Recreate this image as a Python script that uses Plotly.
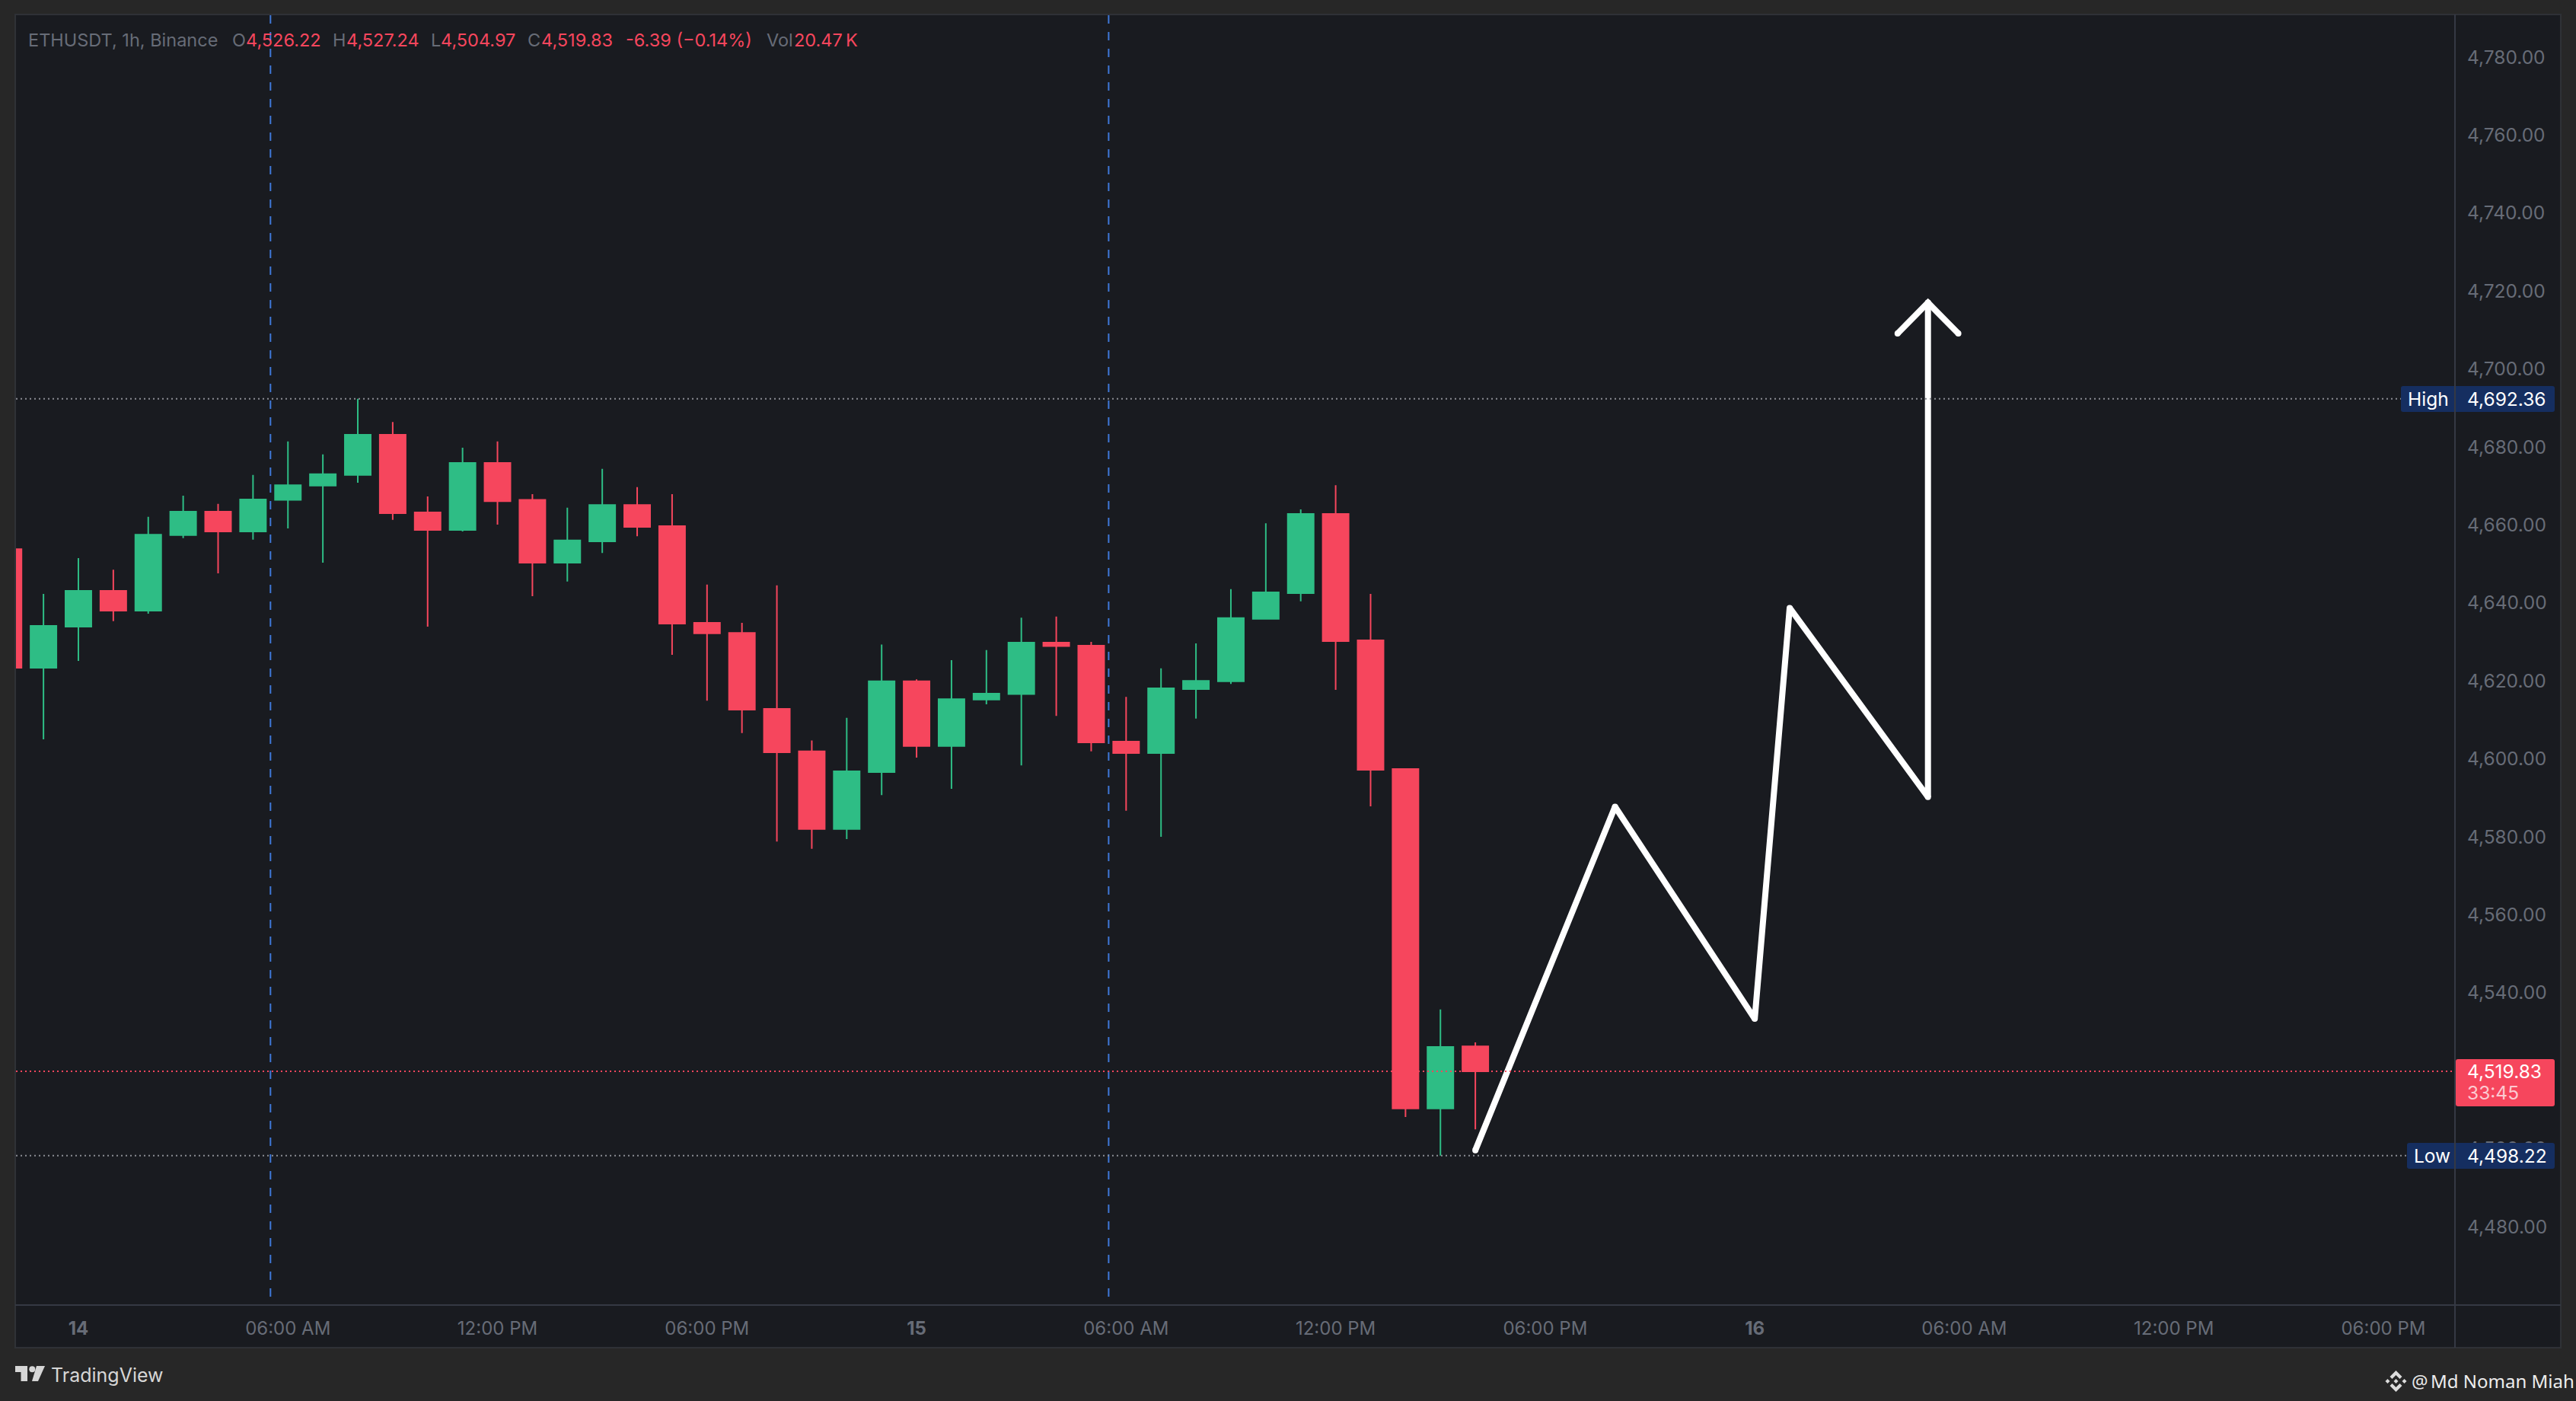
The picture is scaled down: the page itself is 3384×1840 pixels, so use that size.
import pandas as pd
import plotly.graph_objects as go

# ---------- data ----------
BASE = pd.Timestamp("2025-09-14 00:00")
hours = list(range(-2, 41))
opens = [4653.8, 4623.35, 4633.9, 4643.1, 4638.0, 4657.4, 4663.4, 4658.3, 4666.4, 4670.1, 4672.8, 4683.1, 4663.2, 4658.7,
         4675.9, 4666.4, 4650.3, 4655.8, 4665.1, 4659.7, 4634.9, 4632.3, 4612.8, 4601.9, 4582.0, 4596.6, 4619.9, 4603.3,
         4615.2, 4616.6, 4629.8, 4629.0, 4604.4, 4601.5, 4617.9, 4619.9, 4635.9, 4642.5, 4662.8, 4630.4, 4597.4, 4510.3, 4526.22]
closes = [4623.35, 4634.1, 4643.1, 4638.0, 4657.5, 4663.4, 4658.3, 4666.5, 4670.2, 4673.0, 4683.1, 4663.0, 4658.7, 4675.9,
          4666.1, 4650.3, 4656.0, 4665.1, 4659.5, 4634.7, 4632.2, 4612.6, 4601.7, 4582.0, 4596.8, 4619.9, 4603.3, 4615.3,
          4616.7, 4629.8, 4628.9, 4604.2, 4601.5, 4618.1, 4620.0, 4636.1, 4642.7, 4662.8, 4630.2, 4597.2, 4510.3, 4526.1, 4519.83]
highs = [4653.8, 4642.3, 4651.5, 4648.5, 4662.1, 4667.5, 4665.4, 4672.8, 4681.4, 4678.1, 4692.36, 4686.4, 4667.3, 4679.8,
         4681.4, 4667.9, 4664.4, 4674.4, 4669.7, 4667.9, 4644.7, 4634.9, 4644.5, 4604.7, 4610.5, 4629.3, 4620.4, 4625.3,
         4627.9, 4636.2, 4636.5, 4630.0, 4615.9, 4623.2, 4629.6, 4643.5, 4660.4, 4664.0, 4670.2, 4642.3, 4597.4, 4535.7, 4527.24]
lows = [4623.35, 4605.0, 4625.1, 4635.3, 4637.2, 4656.6, 4647.6, 4656.2, 4659.1, 4650.3, 4670.8, 4661.3, 4633.9, 4658.3,
        4660.1, 4641.7, 4645.5, 4652.8, 4657.1, 4626.7, 4614.9, 4606.6, 4578.8, 4576.9, 4579.4, 4590.7, 4600.3, 4592.3,
        4614.0, 4598.3, 4611.0, 4601.9, 4586.7, 4580.0, 4610.3, 4619.2, 4635.9, 4640.4, 4617.7, 4587.8, 4508.1, 4498.22, 4504.97]

path_hours = [40, 44, 48, 49, 52.96, 52.96]
path_prices = [4499.6, 4587.7, 4533.3, 4638.7, 4590.2, 4717.0]
head_hours = [52.09, 52.96, 53.83]
head_prices = [4709.1, 4717.0, 4709.1]

marker_hours = [5.5, 29.5]
HIGH, LOW, LAST = 4692.36, 4498.22, 4519.83

price_ticks = [4480, 4500, 4520, 4540, 4560, 4580, 4600, 4620, 4640, 4660, 4680, 4700, 4720, 4740, 4760, 4780]
tick_hours = [0, 6, 12, 18, 24, 30, 36, 42, 48, 54, 60, 66]
tick_text = ["<b>14</b>", "06:00 AM", "12:00 PM", "06:00 PM", "<b>15</b>", "06:00 AM", "12:00 PM", "06:00 PM",
             "<b>16</b>", "06:00 AM", "12:00 PM", "06:00 PM"]

header_parts = ["ETHUSDT, 1h, Binance", "O", "4,526.22", "H", "4,527.24", "L", "4,504.97", "C", "4,519.83",
                "-6.39 (−0.14%)", "Vol", "20.47\u2009K"]

# ---------- style ----------
OUTER, PANEL, EDGE = "#272727", "#191b20", "#2f3136"
AXIS_LINE, MUTED = "#353944", "#676c77"
UP, DOWN, BLUE, NAVY = "#2ebd85", "#f6465d", "#3f78d9", "#152e60"
FONT = "Inter"
L, R, T, B = 21, 3225, 20, 1714


def t(h):
    return BASE + pd.Timedelta(hours=h)


def px(x):
    return (x - L) / (R - L)


def py(y):
    return (B - y) / (B - T)


def poly(points, close=True):
    s = "M" + " L".join(f"{px(x):.6f},{py(y):.6f}" for x, y in points)
    return s + (" Z" if close else "")


def rrect(x0, y0, x1, y1, r=3):
    return (f"M{px(x0+r):.6f},{py(y0):.6f} L{px(x1-r):.6f},{py(y0):.6f} "
            f"Q{px(x1):.6f},{py(y0):.6f} {px(x1):.6f},{py(y0+r):.6f} "
            f"L{px(x1):.6f},{py(y1-r):.6f} Q{px(x1):.6f},{py(y1):.6f} {px(x1-r):.6f},{py(y1):.6f} "
            f"L{px(x0+r):.6f},{py(y1):.6f} Q{px(x0):.6f},{py(y1):.6f} {px(x0):.6f},{py(y1-r):.6f} "
            f"L{px(x0):.6f},{py(y0+r):.6f} Q{px(x0):.6f},{py(y0):.6f} {px(x0+r):.6f},{py(y0):.6f} Z")


def fill_path(path, color, layer="above"):
    return dict(type="path", path=path, xref="paper", yref="paper", fillcolor=color,
                line=dict(width=0), layer=layer)


def label(x, y, text, color="#ffffff", size=23.5, family=FONT):
    return dict(x=px(x), y=py(y), xref="paper", yref="paper", xanchor="left", yanchor="middle",
                text=text, showarrow=False, borderpad=0, font=dict(color=color, size=size, family=family))


fig = go.Figure()
fig.add_trace(go.Candlestick(
    x=[t(h) for h in hours], open=opens, high=highs, low=lows, close=closes,
    increasing=dict(line=dict(color=UP, width=2), fillcolor=UP),
    decreasing=dict(line=dict(color=DOWN, width=2), fillcolor=DOWN),
    whiskerwidth=0, showlegend=False, name="ETHUSDT"))
fig.add_trace(go.Scatter(x=[t(h) for h in path_hours], y=path_prices, mode="lines+markers",
                         line=dict(color="#ffffff", width=8), marker=dict(color="#ffffff", size=8),
                         showlegend=False, name="path"))
fig.add_trace(go.Scatter(x=[t(h) for h in head_hours], y=head_prices, mode="lines+markers",
                         line=dict(color="#ffffff", width=8), marker=dict(color="#ffffff", size=8),
                         showlegend=False, name="arrow"))

shapes = [
    dict(type="rect", xref="paper", yref="paper", x0=px(20), x1=px(3364), y0=py(1770), y1=py(19),
         fillcolor=PANEL, line=dict(color=EDGE, width=2), layer="below"),
]
# logo
logo = "#d6d6d6"
shapes += [
    fill_path(poly([(20, 1794), (36, 1794), (36, 1814), (27.5, 1814), (27.5, 1802), (20, 1802)]), logo),
    fill_path(poly([(48, 1794), (59, 1794), (50, 1814), (42, 1814)]), logo),
    dict(type="circle", xref="paper", yref="paper", x0=px(38.3), x1=px(46.3), y0=py(1802.3), y1=py(1794.3),
         fillcolor=logo, line=dict(width=0)),
]
# exchange mark
cx, cy = 3147.5, 1814
ic = "#dcdcdc"
shapes += [
    fill_path(poly([(cx, cy - 14), (cx + 8, cy - 6), (cx + 5, cy - 3), (cx, cy - 8), (cx - 5, cy - 3), (cx - 8, cy - 6)]), ic),
    fill_path(poly([(cx, cy + 14), (cx + 8, cy + 6), (cx + 5, cy + 3), (cx, cy + 8), (cx - 5, cy + 3), (cx - 8, cy + 6)]), ic),
    fill_path(poly([(cx, cy - 3), (cx + 3, cy), (cx, cy + 3), (cx - 3, cy)]), ic),
    fill_path(poly([(cx - 11, cy - 3), (cx - 8, cy), (cx - 11, cy + 3), (cx - 14, cy)]), ic),
    fill_path(poly([(cx + 11, cy - 3), (cx + 14, cy), (cx + 11, cy + 3), (cx + 8, cy)]), ic),
]
# session markers
for h in marker_hours:
    shapes.append(dict(type="line", xref="x", yref="paper", x0=t(h), x1=t(h), y0=1, y1=0,
                       line=dict(color=BLUE, width=2, dash="11px,11px"), layer="above"))
# level lines
shapes += [
    dict(type="line", xref="paper", yref="y", x0=0, x1=px(3154), y0=HIGH, y1=HIGH,
         line=dict(color="#8a8c92", width=2, dash="2px,4px"), layer="above"),
    dict(type="line", xref="paper", yref="y", x0=0, x1=px(3162), y0=LOW, y1=LOW,
         line=dict(color="#8a8c92", width=2, dash="2px,4px"), layer="above"),
    dict(type="line", xref="paper", yref="y", x0=0, x1=px(3221), y0=LAST, y1=LAST,
         line=dict(color=DOWN, width=2, dash="2px,4px"), layer="above"),
]
# axis frame lines
shapes += [
    dict(type="line", xref="paper", yref="paper", x0=px(20), x1=px(3364), y0=py(1714), y1=py(1714),
         line=dict(color=AXIS_LINE, width=2), layer="above"),
]
# price badges
shapes += [
    fill_path(rrect(3154, 507, 3356, 541), NAVY),
    fill_path(rrect(3162, 1501, 3356, 1535), NAVY),
    fill_path(rrect(3226, 1391, 3356, 1453), DOWN),
    dict(type="line", xref="paper", yref="paper", x0=px(3225), x1=px(3225), y0=py(1770), y1=py(19),
         line=dict(color=AXIS_LINE, width=2), layer="above"),
]

header_x = [36, 304, 322, 436, 454, 565, 578, 692, 710, 821, 1006, 1042]
header_col = [MUTED, MUTED, DOWN, MUTED, DOWN, MUTED, DOWN, MUTED, DOWN, DOWN, MUTED, DOWN]
annotations = [label(x, 52, s, c) for x, s, c in zip(header_x, header_parts, header_col)]
annotations += [
    label(3162, 524, "High", "#ffffff", 24.5),
    label(3240, 524, f"{HIGH:,.2f}", "#ffffff", 24.5),
    label(3170, 1518, "Low", "#ffffff", 24.5),
    label(3240, 1518, f"{LOW:,.2f}", "#ffffff", 24.5),
    label(3240, 1407, f"{LAST:,.2f}", "#ffffff", 24.5),
    label(3240, 1435, "33:45", "rgba(255,255,255,0.72)", 24.5),
    label(66, 1806, "TradingView", "#d6d6d6", 25),
    label(3167, 1813, "@", "#e6e6e6", 24, "Noto Sans"),
    label(3192, 1813, "Md Noman Miah", "#ededed", 24, "Noto Sans"),
]

fig.update_layout(
    width=3384, height=1840, autosize=False,
    margin=dict(l=L, r=3384 - R, t=T, b=1840 - B, pad=0),
    paper_bgcolor=OUTER, plot_bgcolor=PANEL,
    boxgap=0, boxgroupgap=0.26, showlegend=False, hovermode=False,
    font=dict(family=FONT, color=MUTED, size=24),
    shapes=shapes, annotations=annotations,
    xaxis=dict(type="date", range=[t(-1.787), t(68.05)], rangeslider=dict(visible=False),
               tickmode="array", tickvals=[t(h) for h in tick_hours], ticktext=tick_text,
               showgrid=False, zeroline=False, showline=False, ticks="", tickangle=0,
               tickfont=dict(family=FONT, size=24, color=MUTED), ticklabelstandoff=14),
    yaxis=dict(side="right", range=[4459.88, 4790.74], tickmode="array", tickvals=price_ticks, tickformat=",.2f",
               showgrid=False, zeroline=False, showline=False, ticks="",
               tickfont=dict(family=FONT, size=24.5, color=MUTED), ticklabelstandoff=15),
)

fig.write_html("out.html", config={"displayModeBar": False},
               post_script="document.body.style.margin='0';document.documentElement.style.background='#272727';")
